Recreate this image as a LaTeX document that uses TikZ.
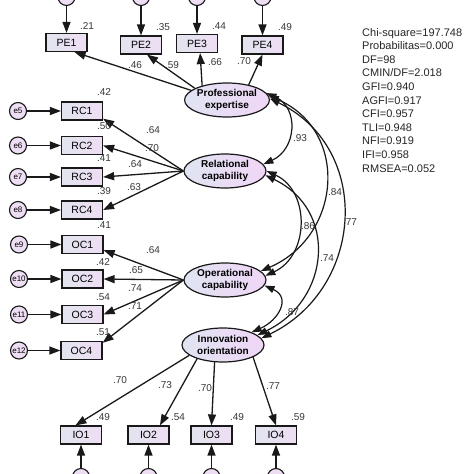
\documentclass[tikz,border=0pt]{standalone}
\usepackage{fontspec}
\setmainfont{Liberation Sans}
\usetikzlibrary{arrows.meta,shapes.geometric,calc}
\definecolor{boxL}{RGB}{226,228,238}
\definecolor{boxR}{RGB}{238,222,244}
\definecolor{ellL}{RGB}{224,228,242}
\definecolor{ellR}{RGB}{240,214,246}
\definecolor{linec}{RGB}{25,25,25}
\definecolor{txt}{RGB}{55,55,55}
\begin{document}
\begin{tikzpicture}[x=1pt,y=-1pt,
  obs/.style={draw=linec, line width=1.2pt, left color=boxL, right color=boxR, minimum width=41pt, minimum height=18pt, inner sep=0pt, font=\fontsize{10.5}{12}\selectfont},
  lat/.style={ellipse, draw=linec, line width=1.2pt, left color=ellL, right color=ellR, minimum width=82pt, minimum height=34pt, inner sep=0pt, align=center, font=\bfseries\fontsize{10}{11.5}\selectfont},
  err/.style={circle, draw=linec, line width=1.1pt, fill=boxR, minimum size=17pt, inner sep=0pt, font=\fontsize{8}{8}\selectfont},
  lbl/.style={text=txt, font=\fontsize{10}{10}\selectfont, inner sep=0pt},
  load/.style={line width=1.3pt, draw=linec, -{Triangle[length=11pt,width=8pt]}},
  cov/.style={line width=1.2pt, draw=linec, {Triangle[length=10pt,width=7pt]}-{Triangle[length=10pt,width=7pt]}},
]
\useasboundingbox (0,0) rectangle (474,474);
\fill[white] (0,0) rectangle (474,474);
\clip (0,0) rectangle (474,474);

% latent variables
\node[lat] (pe) at (227,100) {Professional\\expertise};
\node[lat] (rc) at (225,171) {Relational\\capability};
\node[lat] (oc) at (225,280) {Operational\\capability};
\node[lat] (io) at (223,345) {Innovation\\orientation};

% PE indicators
\node[obs] (pe1) at (66.5,42.5) {PE1};
\node[obs] (pe2) at (141,45) {PE2};
\node[obs] (pe3) at (197,43.5) {PE3};
\node[obs] (pe4) at (262.5,45) {PE4};
\node[err] (d1) at (66.5,-3) {};
\node[err] (d2) at (141,-3) {};
\node[err] (d3) at (197,-3) {};
\node[err] (d4) at (262.5,-3) {};

% RC indicators
\node[obs] (rc1) at (82,111) {RC1};
\node[obs] (rc2) at (82,145.5) {RC2};
\node[obs] (rc3) at (82,177) {RC3};
\node[obs] (rc4) at (82,210) {RC4};
\node[err] (e5) at (18,111) {e5};
\node[err] (e6) at (18,145.5) {e6};
\node[err] (e7) at (18,177) {e7};
\node[err] (e8) at (18,210) {e8};

% OC indicators
\node[obs] (oc1) at (82.5,244.5) {OC1};
\node[obs] (oc2) at (82.5,279) {OC2};
\node[obs] (oc3) at (82.5,314.5) {OC3};
\node[obs] (oc4) at (81.5,350.5) {OC4};
\node[err] (e9) at (19,244.5) {e9};
\node[err] (e10) at (19,279) {e10};
\node[err] (e11) at (19,314.5) {e11};
\node[err] (e12) at (19,350.5) {e12};

% IO indicators
\node[obs] (io1) at (81,435) {IO1};
\node[obs] (io2) at (148.5,435) {IO2};
\node[obs] (io3) at (211.5,435) {IO3};
\node[obs] (io4) at (276,435) {IO4};
\node[err] (d13) at (81,477) {};
\node[err] (d14) at (148.5,477) {};
\node[err] (d15) at (211.5,477) {};
\node[err] (d16) at (276,477) {};

% error arrows
\foreach \a/\b in {d1/pe1,d2/pe2,d3/pe3,d4/pe4,e5/rc1,e6/rc2,e7/rc3,e8/rc4,e9/oc1,e10/oc2,e11/oc3,e12/oc4,d13/io1,d14/io2,d15/io3,d16/io4}
  \draw[load] (\a) -- (\b);

% loadings
\draw[load] (pe.165) -- (pe1.-50);
\draw[load] (pe.160) -- (pe2.-58);
\draw[load] (pe.150) -- (pe3.-72);
\draw[load] (pe.35) -- (pe4.south);

\draw[load] (rc.west) -- (rc1.-20);
\draw[load] (rc.west) -- (rc2.east);
\draw[load] (rc.west) -- (rc3.east);
\draw[load] (rc.west) -- (rc4.east);

\draw[load] (oc.west) -- (oc1.-15);
\draw[load] (oc.west) -- (oc2.east);
\draw[load] (oc.west) -- (oc3.east);
\draw[load] (oc.west) -- (oc4.20);

\draw[load] (io.197) -- (io1.120);
\draw[load] (io.208) -- (io2.40);
\draw[load] (io.244) -- (io3.north);
\draw[load] (io.-22) -- (io4.north);

% covariances
\draw[cov] (pe.10) .. controls ($(pe.10)+(33,15)$) and ($(rc.10)+(33,-15)$) .. (rc.10);
\draw[cov] (rc.0) .. controls ($(rc.0)+(44,20)$) and ($(oc.6)+(44,-20)$) .. (oc.6);
\draw[cov] (oc.-8) .. controls ($(oc.-8)+(27,12)$) and ($(io.24)+(27,-12)$) .. (io.24);
\draw[cov] (pe.6) .. controls ($(pe.6)+(81,35)$) and ($(oc.14)+(81,-35)$) .. (oc.14);
\draw[cov] (rc.-6) .. controls ($(rc.-6)+(73,35)$) and ($(io.16)+(73,-35)$) .. (io.16);
\draw[cov] (pe.2) .. controls ($(pe.2)+(103,50)$) and ($(io.10)+(103,-50)$) .. (io.10);

% labels: PE
\node[lbl] (l1) at (87,26) {.21};
\node[lbl] (l2) at (163,27) {.35};
\node[lbl] (l3) at (219,26) {.44};
\node[lbl] (l4) at (285,27) {.49};
\node[lbl] (l5) at (135,65) {.46};
\node[lbl] (l6) at (172,65) {.59};
\node[lbl] (l7) at (215,62) {.66};
\node[lbl] (l8) at (244,61) {.70};
% RC
\node[lbl] (l9) at (104,92) {.42};
\node[lbl] (l10) at (104,126) {.50};
\node[lbl] (l11) at (104,158) {.41};
\node[lbl] (l12) at (104,191) {.39};
\node[lbl] (l13) at (153,130) {.64};
\node[lbl] (l14) at (152,148) {.70};
\node[lbl] (l15) at (135,164) {.64};
\node[lbl] (l16) at (134,187) {.63};
% OC
\node[lbl] (l17) at (104,225) {.41};
\node[lbl] (l18) at (103,262) {.42};
\node[lbl] (l19) at (103,297) {.54};
\node[lbl] (l20) at (103,332) {.51};
\node[lbl] (l21) at (153,250) {.64};
\node[lbl] (l22) at (136,270) {.65};
\node[lbl] (l23) at (135,288) {.74};
\node[lbl] (l24) at (135,306) {.71};
% IO
\node[lbl] (l25) at (120,380) {.70};
\node[lbl] (l26) at (165,385) {.73};
\node[lbl] (l27) at (205,388) {.70};
\node[lbl] (l28) at (273,386) {.77};
\node[lbl] (l29) at (103,417) {.49};
\node[lbl] (l30) at (178,417) {.54};
\node[lbl] (l31) at (237,417) {.49};
\node[lbl] (l32) at (298,417) {.59};
% covariances
\node[lbl] (c1) at (300,138) {.93};
\node[lbl] (c2) at (335,192) {.84};
\node[lbl] (c3) at (308,226) {.86};
\node[lbl] (c4) at (350,222) {.77};
\node[lbl] (c5) at (327,258) {.74};
\node[lbl] (c6) at (292,312) {.87};

% fit statistics
\node[anchor=north west, align=left, inner sep=0pt, text=black!85, font=\fontsize{11}{13.6}\selectfont] (fit) at (362,28)
{Chi-square=197.748\\Probabilitas=0.000\\DF=98\\CMIN/DF=2.018\\GFI=0.940\\AGFI=0.917\\CFI=0.957\\TLI=0.948\\NFI=0.919\\IFI=0.958\\RMSEA=0.052};
\end{tikzpicture}
\end{document}
